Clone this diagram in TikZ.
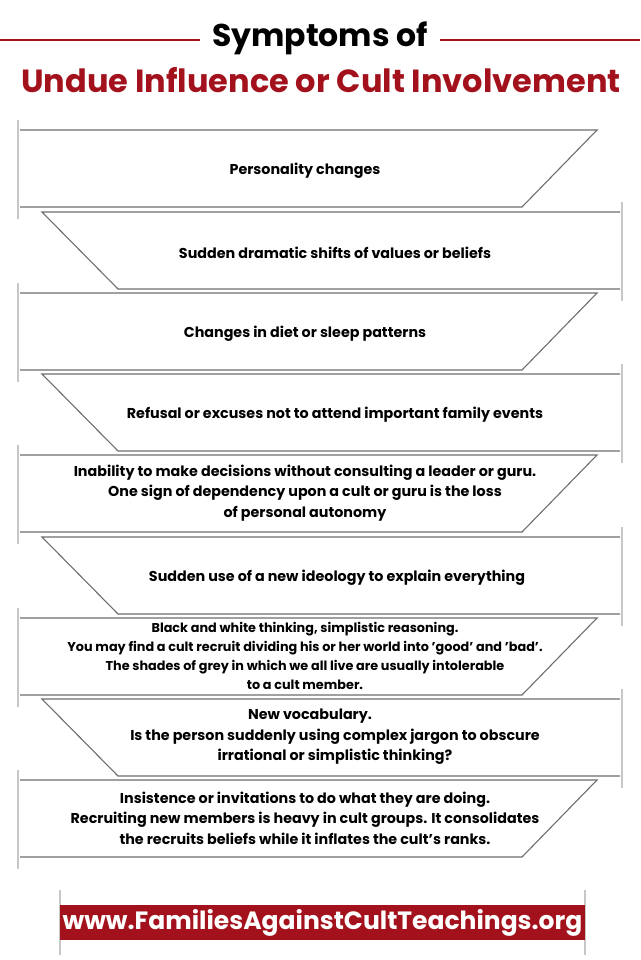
\documentclass[tikz,border=0pt]{standalone}
\usepackage{fontspec}
\setmainfont{Poppins}
\definecolor{dred}{HTML}{A3121C}
\definecolor{edge}{HTML}{6E6E6E}
\tikzset{
  band/.style={draw=edge,line width=1.1pt,fill=white},
  sh/.style={line width=2.5pt,draw=black!22},
  btxt/.style={font=\bfseries\fontsize{14.3}{20.5}\selectfont,align=center,text=black,inner sep=0pt},
}
\begin{document}
\begin{tikzpicture}[x=1pt,y=-1pt]
\useasboundingbox (0,0) rectangle (640,960);
\fill[white] (0,0) rectangle (640,960);
% title
\node[font=\bfseries\fontsize{31.5}{36}\selectfont,inner sep=2pt] (t1) at (320,38) {Symptoms of};
\coordinate (l1) at (0,40); \coordinate (r1) at (640,40);
\draw[dred,line width=1.3pt] (l1) -- (200,40);
\draw[dred,line width=1.3pt] (440,40) -- (r1);
\node[font=\bfseries\fontsize{32}{36}\selectfont,text=dred] (t2) at (321,80) {Undue Influence or Cult Involvement};
% bands
\foreach \top/\kind in {130/a,212/b,293/a,374/b,455/a,537/b,618/a,699/b,780/a}{
  \pgfmathsetmacro{\bot}{\top+77}
  \if\kind a
    \draw[sh] (18,\top-10) -- (18,\bot+12);
    \draw[band] (20,\top) -- (597,\top) -- (522,\bot) -- (20,\bot);
  \else
    \draw[sh] (622,\top-10) -- (622,\bot+12);
    \draw[band] (620,\top) -- (42,\top) -- (118,\bot) -- (620,\bot);
  \fi
}
\node[btxt] (n1) at (305,171) {Personality changes};
\node[btxt] (n2) at (335,253) {Sudden dramatic shifts of values or beliefs};
\node[btxt] (n3) at (305,334) {Changes in diet or sleep patterns};
\node[btxt] (n4) at (335,415) {Refusal or excuses not to attend important family events};
\node[btxt] (n5) at (305,493) {Inability to make decisions without consulting a leader or guru.\\One sign of dependency upon a cult or guru is the loss\\of personal autonomy};
\node[btxt] (n6) at (337,578) {Sudden use of a new ideology to explain everything};
\node[btxt,font=\bfseries\fontsize{12.8}{19}\selectfont] (n7) at (305,656) {Black and white thinking, simplistic reasoning.\\You may find a cult recruit dividing his or her world into 'good' and 'bad'.\\The shades of grey in which we all live are usually intolerable\\to a cult member.};
\node[btxt] (n8) at (335,737) {\hspace*{-50pt}New vocabulary.\\Is the person suddenly using complex jargon to obscure\\irrational or simplistic thinking?};
\node[btxt] (n9) at (305,818) {Insistence or invitations to do what they are doing.\\Recruiting new members is heavy in cult groups. It consolidates\\the recruits beliefs while it inflates the cult's ranks.};
% footer
\draw[sh] (60,890) -- (60,955);
\draw[sh] (585,890) -- (585,955);
\fill[dred] (60,905) rectangle (585,940);
\node[font=\bfseries\fontsize{25}{30}\selectfont,text=white] (url) at (322.5,922.5) {www.FamiliesAgainstCultTeachings.org};
\end{tikzpicture}
\end{document}
